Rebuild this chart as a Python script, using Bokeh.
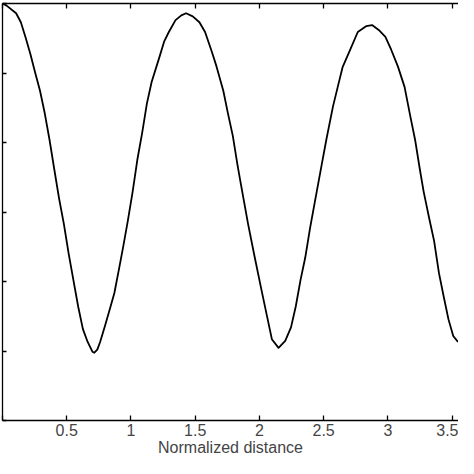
from bokeh.plotting import figure
from bokeh.models import LinearAxis, FixedTicker, Range1d
from bokeh.embed import file_html
from bokeh.resources import INLINE

# Normalized distance (x) and normalized signal (y)
distance = [0, 0.032, 0.106, 0.143, 0.181, 0.218, 0.255, 0.292, 0.329, 0.366,
            0.403, 0.441, 0.478, 0.515, 0.552, 0.589, 0.626, 0.663, 0.700, 0.715,
            0.738, 0.760, 0.797, 0.834, 0.871, 0.909, 0.938, 0.975, 1.013, 1.050,
            1.087, 1.124, 1.161, 1.221, 1.258, 1.295, 1.347, 1.392, 1.429, 1.481,
            1.533, 1.577, 1.629, 1.666, 1.719, 1.755, 1.793, 1.830, 1.852, 1.912,
            1.964, 2.016, 2.060, 2.097, 2.149, 2.201, 2.246, 2.283, 2.320, 2.357,
            2.394, 2.432, 2.446, 2.484, 2.521, 2.573, 2.610, 2.647, 2.707, 2.766,
            2.833, 2.877, 2.929, 2.981, 3.026, 3.078, 3.130, 3.175, 3.212, 3.249,
            3.279, 3.323, 3.360, 3.398, 3.435, 3.472, 3.509, 3.546]
signal = [1.000, 0.994, 0.972, 0.946, 0.901, 0.853, 0.800, 0.749, 0.684, 0.608,
          0.523, 0.438, 0.365, 0.280, 0.204, 0.128, 0.063, 0.026, -0.002, -0.005,
          0.004, 0.026, 0.071, 0.119, 0.167, 0.240, 0.297, 0.373, 0.458, 0.551,
          0.627, 0.712, 0.774, 0.845, 0.890, 0.918, 0.952, 0.966, 0.972, 0.963,
          0.946, 0.918, 0.862, 0.819, 0.749, 0.684, 0.619, 0.534, 0.488, 0.365,
          0.269, 0.176, 0.099, 0.034, 0.009, 0.029, 0.068, 0.128, 0.204, 0.269,
          0.353, 0.430, 0.458, 0.534, 0.608, 0.704, 0.760, 0.816, 0.867, 0.918,
          0.935, 0.938, 0.924, 0.904, 0.867, 0.819, 0.760, 0.675, 0.608, 0.523,
          0.458, 0.380, 0.317, 0.224, 0.156, 0.091, 0.043, 0.026]

x_ticks = [0, 0.5, 1, 1.5, 2, 2.5, 3, 3.5]
x_tick_labels = ["", "0.5", "1", "1.5", "2", "2.5", "3", "3.5"]  # "0" is cropped in the original
y_ticks = [-0.2, 0, 0.2, 0.4, 0.6, 0.8, 1.0]
x_label = "Normalized distance"

FONT = "Liberation Sans"

p = figure(width=458, height=458, output_backend="svg", toolbar_location=None,
           x_range=Range1d(0, 3.55), y_range=Range1d(-0.2, 1.0),
           x_axis_location=None, y_axis_location=None,
           min_border_left=2, min_border_right=0, min_border_top=3, min_border_bottom=0)
p.outline_line_color = None
p.grid.visible = False
p.background_fill_color = "white"
p.border_fill_color = "white"

p.line(distance, signal, line_color="black", line_width=1.8, line_join="round")

# bottom axis
xb = LinearAxis(ticker=FixedTicker(ticks=x_ticks),
                major_label_overrides={t: l for t, l in zip(x_ticks, x_tick_labels)})
xb.axis_label = x_label
xb.axis_label_text_font = FONT
xb.axis_label_text_font_style = "normal"
xb.axis_label_text_font_size = "16px"
xb.axis_label_standoff = 0
xb.major_label_text_font = FONT
xb.major_label_text_font_size = "16px"
xb.major_label_standoff = 3
xb.major_tick_in = 5
xb.major_tick_out = 0
xb.minor_tick_line_color = None
xb.axis_line_width = 1.3
xb.major_tick_line_width = 1.3
p.add_layout(xb, "below")

# top axis (frame line with inward ticks)
xt = LinearAxis(ticker=FixedTicker(ticks=x_ticks),
                major_label_overrides={t: "" for t in x_ticks})
xt.major_tick_in = 5
xt.major_tick_out = 0
xt.minor_tick_line_color = None
xt.axis_line_width = 1.3
xt.major_tick_line_width = 1.3
xt.major_label_standoff = 0
p.add_layout(xt, "above")

# left axis (ticks only; labels are cropped in the original)
yl = LinearAxis(ticker=FixedTicker(ticks=y_ticks),
                major_label_overrides={t: "" for t in y_ticks})
yl.major_tick_in = 4
yl.major_tick_out = 0
yl.minor_tick_line_color = None
yl.axis_line_width = 1.3
yl.major_tick_line_width = 1.3
yl.major_label_standoff = 0
p.add_layout(yl, "left")

open("out.html", "w").write(file_html(p, INLINE))
